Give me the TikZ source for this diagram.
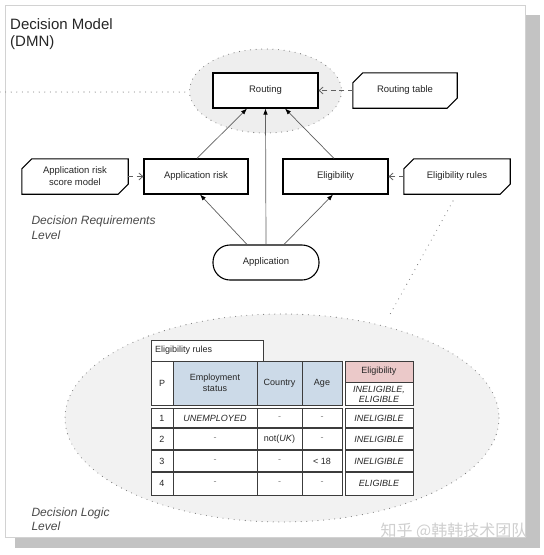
\documentclass[tikz,border=0pt]{standalone}
\usepackage{fontspec}
\setmainfont{Liberation Sans}
\newfontfamily\cjk{Noto Sans CJK SC}
\usetikzlibrary{arrows.meta}

\definecolor{shadowgray}{HTML}{C3C3C3}
\definecolor{framegray}{HTML}{D2D2D2}
\definecolor{ellgray}{HTML}{EEEEEE}
\definecolor{ellgrayb}{HTML}{F2F2F2}
\definecolor{dotgray}{HTML}{7A7A7A}
\definecolor{hdrblue}{HTML}{CCDAE8}
\definecolor{hdrpink}{HTML}{EBC9C9}
\definecolor{tline}{HTML}{3C3C3C}
\definecolor{txt}{HTML}{262626}
\definecolor{lbl}{HTML}{4A4A4A}
\definecolor{arrgray}{HTML}{606060}

\begin{document}
\begin{tikzpicture}[x=1pt,y=-1pt,
  box/.style={draw=black, line width=1.1pt, fill=white, minimum width=105pt, minimum height=35pt,
              inner sep=0pt, font=\fontsize{9.5}{12}\selectfont, text=txt, align=center},
  kmbox/.style={draw=none, minimum width=106pt, minimum height=35pt,
              inner sep=0pt, font=\fontsize{9.5}{12}\selectfont, text=txt, align=center},
  kmline/.style={draw=black, line width=1.1pt, fill=white, line join=miter},
  infl/.style={draw=arrgray, line width=0.7pt, -{Latex[length=6pt,width=4.5pt,color=black]}},
  knowl/.style={draw=arrgray, line width=0.8pt, dash pattern=on 5pt off 3.5pt, -{Straight Barb[length=4pt,width=7pt]}},
  dotline/.style={draw=dotgray, line width=1.1pt, dash pattern=on 0pt off 5.6pt, line cap=round},
  lvl/.style={anchor=base west, align=left, text=lbl, font=\fontsize{12}{14.5}\selectfont\itshape},
  cell/.style={font=\fontsize{9}{11}\selectfont, text=txt, inner sep=0pt, align=center},
  dashcell/.style={font=\fontsize{9}{11}\selectfont, text=gray, inner sep=0pt},
  tgrid/.style={draw=tline, line width=1pt}
]
\useasboundingbox (0,0) rectangle (544,555);

% frame with shadow
\fill[shadowgray] (15,15) rectangle (540,548);
\filldraw[fill=white, draw=framegray, line width=1pt] (5,5) rectangle (525,537);

\node[anchor=base west, align=left, text=txt, font=\fontsize{15}{17}\selectfont, inner sep=0pt] (title) at (10,46) {Decision Model\\(DMN)};

% upper ellipse (decision requirements level highlight)
\fill[ellgray] (265.5,91) ellipse [x radius=76, y radius=42];
\path[dotline] (265.5,91) ellipse [x radius=76, y radius=42];
\coordinate (lefte) at (0,92);
\coordinate (ellw) at (189.5,92);
\path[dotline] (lefte) -- (ellw);

% lower ellipse
\fill[ellgrayb] (282,418) ellipse [x radius=217, y radius=104];
\path[dotline] (282,418) ellipse [x radius=217, y radius=104];

% DRD nodes
\node[box] (routing) at (265.5,90.5) {Routing};
\node[box] (arisk) at (196,176.5) [minimum width=104pt] {Application risk};
\node[box] (elig) at (335.5,176.5) {Eligibility};
\node[box, rounded corners=17pt] (app) at (266,262.5) [minimum width=106pt] {Application};

\node[kmbox] (rtable) at (405,90.5) [minimum width=104pt] {};
\node[kmbox] (arsm) at (75,176.5) {};
\node[kmbox] (erules) at (457,176.5) {};
\foreach \n in {rtable,arsm,erules}{
  \draw[kmline] ([xshift=10pt]\n.north west) -- (\n.north east) -- ([yshift=10pt]\n.south east)
     -- ([xshift=-10pt]\n.south east) -- (\n.south west) -- ([yshift=-10pt]\n.north west) -- cycle;
}
\node[kmbox] at (rtable) {Routing table};
\node[kmbox] at (arsm) {Application risk\\score model};
\node[kmbox] at (erules) {Eligibility rules};

% information requirements
\draw[infl] ([xshift=-19pt]app.north) -- ([xshift=4pt]arisk.south);
\draw[infl] (app.north) -- (routing.south);
\draw[infl] ([xshift=18pt]app.north) -- ([xshift=-2.5pt]elig.south);
\draw[infl] ([xshift=1pt]arisk.north) -- ([xshift=-18.5pt]routing.south);
\draw[infl] ([xshift=-1.5pt]elig.north) -- ([xshift=19.5pt]routing.south);

% knowledge requirements
\draw[knowl] (rtable.west) -- (routing.east);
\draw[knowl] (arsm.east) -- (arisk.west);
\draw[knowl] (erules.west) -- (elig.east);

% link from eligibility rules to decision table
\coordinate (erb) at (453,201);
\coordinate (ellt) at (388,318);
\path[dotline] (erb) -- (ellt);

\node[lvl] (drl) at (28,239) {Decision Requirements\\Level};
\node[lvl] (dll) at (28,530.5) {Decision Logic\\Level};

% decision table
\filldraw[fill=white, draw=tline, line width=1pt] (151,340) rectangle (263,361);
\node[cell, anchor=west] (tname) at (155,350.5) {Eligibility rules};
\fill[white] (151,361) rectangle (413,495);
% header fills
\fill[hdrblue] (173,361) rectangle (342,405);
\fill[hdrpink] (345,361) rectangle (413,382);
% header grid
\draw[tgrid] (151,361) rectangle (342,405);
\draw[tgrid] (173,361) -- (173,405) (257,361) -- (257,405) (302,361) -- (302,405);
\draw[tgrid] (345,361) rectangle (413,405);
\draw[tgrid, line width=0.6pt] (345,382) -- (413,382);
% body grid
\draw[tgrid] (151,408) rectangle (342,495);
\draw[tgrid] (173,408) -- (173,495) (257,408) -- (257,495) (302,408) -- (302,495);
\draw[tgrid, line width=1.3pt] (151,428) -- (342,428) (151,450) -- (342,450) (151,472) -- (342,472);
\draw[tgrid] (345,408) rectangle (413,495);
\draw[tgrid, line width=1.3pt] (345,428) -- (413,428) (345,450) -- (413,450) (345,472) -- (413,472);

% header texts
\node[cell] (hp) at (162,383) {P};
\node[cell] (hemp) at (215,383) {Employment\\status};
\node[cell] (hcty) at (279.5,383) {Country};
\node[cell] (hage) at (322,383) {Age};
\node[cell] (helig) at (379,371.5) {Eligibility};
\node[cell, font=\fontsize{9}{10}\selectfont\itshape] (hvals) at (379,394) {INELIGIBLE,\\ELIGIBLE};

% rows
\node[cell] (p1) at (162,418) {1};
\node[cell, font=\fontsize{9}{11}\selectfont\itshape] (e1) at (215,418) {UNEMPLOYED};
\node[dashcell] (c1) at (279.5,418) {-};
\node[dashcell] (a1) at (322,418) {-};
\node[cell, font=\fontsize{9}{11}\selectfont\itshape] (o1) at (379,418) {INELIGIBLE};

\node[cell] (p2) at (162,439) {2};
\node[dashcell] (e2) at (215,439) {-};
\node[cell] (c2) at (279.5,439) {not(\textit{UK})};
\node[dashcell] (a2) at (322,439) {-};
\node[cell, font=\fontsize{9}{11}\selectfont\itshape] (o2) at (379,439) {INELIGIBLE};

\node[cell] (p3) at (162,461) {3};
\node[dashcell] (e3) at (215,461) {-};
\node[dashcell] (c3) at (279.5,461) {-};
\node[cell] (a3) at (322,461) {< 18};
\node[cell, font=\fontsize{9}{11}\selectfont\itshape] (o3) at (379,461) {INELIGIBLE};

\node[cell] (p4) at (162,483.5) {4};
\node[dashcell] (e4) at (215,483.5) {-};
\node[dashcell] (c4) at (279.5,483.5) {-};
\node[dashcell] (a4) at (322,483.5) {-};
\node[cell, font=\fontsize{9}{11}\selectfont\itshape] (o4) at (379,483.5) {ELIGIBLE};

% watermark
\node[text=gray!38, font=\cjk\fontsize{16}{18}\selectfont, inner sep=0pt] (wm) at (454,531) {知乎 @韩韩技术团队};
\end{tikzpicture}
\end{document}
